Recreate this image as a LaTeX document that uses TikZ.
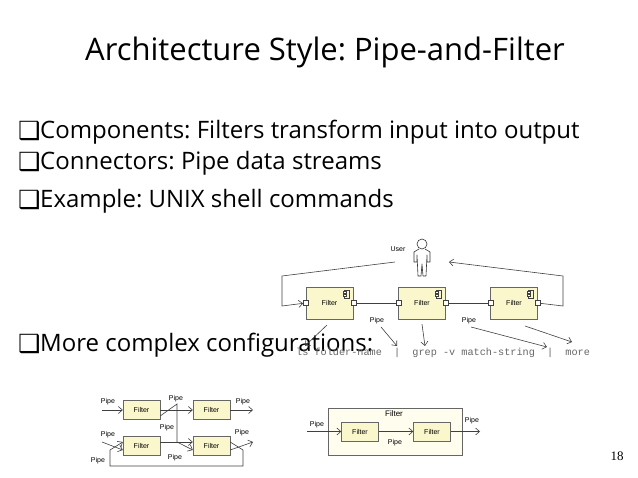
\documentclass[tikz,border=0pt]{standalone}
\usepackage{fontspec}
\setmainfont{Open Sans}
\newfontfamily\arial{Liberation Sans}
\newfontfamily\mono{Liberation Mono}
\newfontfamily\serif{Liberation Serif}
\newfontfamily\dejavu{DejaVu Sans}
\newcommand{\mybul}{\makebox[22pt][l]{\raisebox{-1pt}{\dejavu\fontsize{25}{26}\selectfont ❑}}}
\usetikzlibrary{arrows.meta}
\frenchspacing
\begin{document}
\begin{tikzpicture}[x=1pt,y=-1pt,
  filt/.style={draw=black!60,fill={rgb,255:red,250;green,247;blue,205},inner sep=0},
  lbl/.style={font=\arial\fontsize{7}{8}\selectfont,inner sep=0},
  ln/.style={draw=black!75,line width=0.6pt},
  arr/.style={ln,-{Straight Barb[length=4pt,width=7pt]}},
  port/.style={draw=black!75,fill=white,minimum size=5pt,inner sep=0},
  bul/.style={anchor=west,inner sep=0,font=\fontsize{24}{28}\selectfont}]
\useasboundingbox (0,0) rectangle (638,478);
\node (title) at (325,52) {\fontsize{31}{34}\selectfont Architecture Style: Pipe-and-Filter};
\node[bul] (b1) at (18,132) {\mybul Components: Filters transform input into output};
\node[bul] (b2) at (18,163) {\mybul Connectors: Pipe data streams};
\node[bul] (b3) at (18,201) {\mybul Example: UNIX shell commands};
\node[bul] (b4) at (18,345) {\mybul More complex configurations:};
\node[anchor=west,inner sep=0,text=black!60,font=\mono\fontsize{10.2}{12}\selectfont] (code) at (296,353) {ls folder-name \ | \ grep -v match-string \ | \ more};
% top diagram
\foreach \n/\x in {f1/329.5,f2/422,f3/514}{
  \node[filt,minimum width=47pt,minimum height=32pt,lbl] (\n) at (\x,303) {Filter};
  \draw[black!75,line width=0.5pt] ([xshift=-9pt,yshift=-3pt]\n.north east) rectangle ([xshift=-4pt,yshift=-11pt]\n.north east);
  \draw[black!75,fill=white,line width=0.4pt] ([xshift=-10.5pt,yshift=-4.5pt]\n.north east) rectangle ([xshift=-7.5pt,yshift=-6.5pt]\n.north east);
  \draw[black!75,fill=white,line width=0.4pt] ([xshift=-10.5pt,yshift=-7.5pt]\n.north east) rectangle ([xshift=-7.5pt,yshift=-9.5pt]\n.north east);
  \node[port] (\n l) at (\n.west) {};
  \node[port] (\n r) at (\n.east) {};
}
\draw[ln] (f1r) -- (f2l);
\draw[ln] (f2r) -- (f3l);
% user
\node[lbl] (user) at (398,249) {User};
\draw[black!80,line width=0.6pt] (422,244) circle (5);
\draw[black!80,line width=0.6pt,line join=round] (419,249) -- (414,252) -- (414,262) -- (417,262) -- (417,255) -- (418,276) -- (421,276) -- (422,264) -- (423,276) -- (426,276) -- (427,255) -- (427,262) -- (430,262) -- (430,252) -- (425,249);
\coordinate (ul) at (395,262);
\coordinate (ur) at (449,262);
\draw[arr] (ul) -- (282,276) -- (282,306) -- (f1l);
\draw[arr] (f3r) -- (563,306) -- (563,276) -- (ur);
\node[lbl] (p1) at (377,321) {Pipe};
\node[lbl] (p2) at (469,321) {Pipe};
\coordinate (c1) at (305,346); \coordinate (c2) at (397,346);
\coordinate (c3) at (425,346); \coordinate (c4) at (547,347); \coordinate (c5) at (572,342);
\draw[arr] (327,325) -- (c1);
\draw[arr] (p1) ++(4,6) -- (c2);
\draw[arr] (f2.south) ++(0,5) -- (c3);
\draw[arr] (p2) ++(2,6) -- (c4);
\draw[arr] (525,326) -- (c5);
% bottom left
\tikzset{sf/.style={filt,minimum width=37pt,minimum height=19pt,lbl}}
\node[sf] (a) at (141.5,410) {Filter};
\node[sf] (b) at (211.5,410) {Filter};
\node[sf] (c) at (141.5,446) {Filter};
\node[sf] (d) at (211.5,446) {Filter};
\coordinate (ain) at (102,410); \coordinate (bout) at (253,410);
\coordinate (cin) at (102,442); \coordinate (dout) at (253,442);
\draw[arr] (ain) -- (a.west);
\draw[arr] (a.east) -- (b.west);
\draw[arr] (b.east) -- (bout);
\draw[arr] ([yshift=-6pt]a.east) -- (177,404) -- (177,442) -- ([yshift=-4pt]d.west);
\draw[arr] (cin) -- ([yshift=-4pt]c.west);
\draw[arr] ([yshift=4pt]c.east) -- ([yshift=4pt]d.west);
\draw[arr] ([yshift=-4pt]d.east) -- (dout);
\draw[arr] ([yshift=4pt]d.east) -- (243,450) -- (243,466) -- (110,466) -- (110,450) -- ([yshift=4pt]c.west);
\node[lbl] at (108,402) {Pipe};
\node[lbl] at (176,399) {Pipe};
\node[lbl] at (243,402) {Pipe};
\node[lbl] at (167,428) {Pipe};
\node[lbl] at (108,435) {Pipe};
\node[lbl] at (242,433) {Pipe};
\node[lbl] at (175,458) {Pipe};
\node[lbl] at (98,461) {Pipe};
% bottom right
\draw[draw=black!60,fill={rgb,255:red,255;green,253;blue,238}] (328,408) rectangle (462,455);
\node[lbl,font=\arial\fontsize{8}{9}\selectfont] (outer) at (394,414) {Filter};
\node[sf] (g) at (360,431.5) {Filter};
\node[sf] (h) at (432,431.5) {Filter};
\coordinate (gin) at (307,431.5); \coordinate (hout) at (480,431.5);
\draw[arr] (gin) -- (g.west);
\draw[arr] (g.east) -- (h.west);
\draw[arr] (h.east) -- (hout);
\node[lbl] at (317,425) {Pipe};
\node[lbl] at (395,443) {Pipe};
\node[lbl] at (472,421) {Pipe};
\node[font=\serif\fontsize{13}{14}\selectfont] (pg) at (617,456) {18};
\end{tikzpicture}
\end{document}
